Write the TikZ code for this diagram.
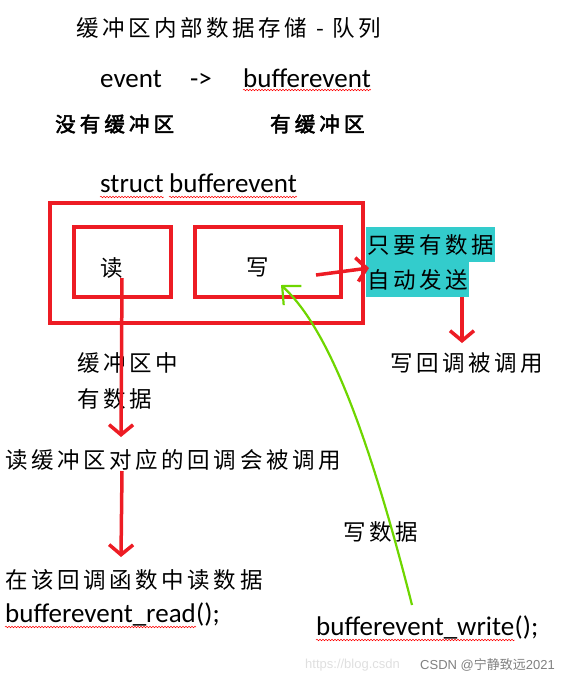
\documentclass[tikz,border=0pt]{standalone}
\usepackage{fontspec}
\setmainfont{Carlito}
\newfontfamily\cjk[LetterSpace=16]{Noto Sans CJK SC}
\newfontfamily\cjkbold[LetterSpace=20,FakeBold=2.5]{Noto Sans CJK SC}
\newfontfamily\wmfont{Liberation Sans}
\newfontfamily\wmcjk{Noto Sans CJK SC}
\usetikzlibrary{arrows.meta,decorations.pathmorphing}
\definecolor{myred}{RGB}{237,28,36}
\definecolor{mygreen}{RGB}{110,214,0}
\definecolor{mycyan}{RGB}{51,204,204}

\begin{document}
\begin{tikzpicture}
        [x=1pt, y=-1pt,
        txt/.style={inner sep=0pt, anchor=west},
        cn/.style={txt, font=\cjk\fontsize{22.5}{26}\selectfont},
        cnbold/.style={txt, font=\cjkbold\fontsize{20.5}{24}\selectfont},
        en/.style={inner sep=0pt, anchor=base west, font=\fontsize{27}{31}\selectfont},
        box/.style={draw=myred, line width=3.5pt, minimum height=70pt, inner sep=0pt},
        hilite/.style={fill=mycyan, inner xsep=1pt, inner ysep=0pt, minimum height=35pt, anchor=north west, font=\cjk\fontsize{22.5}{26}\selectfont},
        redarrow/.style={myred, line width=3.5pt, -{Straight Barb[length=10pt,width=24pt]}},
        greenarrow/.style={mygreen, line width=2.2pt, -{Straight Barb[length=14pt,width=26pt]}},
        squiggle/.style={red, line width=0.5pt, decorate, decoration={snake, amplitude=0.8pt, segment length=3pt}},
        wm/.style={txt, font=\wmfont\fontsize{13}{15}\selectfont}]

        \useasboundingbox (0,0) rectangle (584,681);

        % heading lines
        \node[cn] (title) at (76,28) {缓冲区内部数据存储 - 队列};
        \node[en] (ev) at (100,87) {event};
        \node[en] (to) at (190,87) {->};
        \node[en] (bev) at (243,87) {bufferevent};
        \node[cnbold] (nobuf) at (55,124) {没有缓冲区};
        \node[cnbold] (hasbuf) at (270,124) {有缓冲区};
        \node[en] (struct) at (100,192) {struct};
        \node[en] (sbev) at (169,192) {bufferevent};

        % the struct and its two buffers
        \node[box, minimum width=313pt, minimum height=120pt] (outer) at (206.5,263) {};
        \node[box, minimum width=97pt] (rbuf) at (122.5,262) {};
        \node[box, minimum width=146pt] (wbuf) at (268,262) {};
        \node[cn, anchor=center] (rd) at (112,268) {读};
        \node[cn, anchor=center] (wr) at (258,267) {写};

        % highlighted note
        \node[hilite] (send1) at (366,227) {只要有数据};
        \node[hilite] (send2) at (366,262) {自动发送};
        \node[cn] (wcb) at (390,363) {写回调被调用};

        % read side
        \node[cn] (hasdata1) at (77,363) {缓冲区中};
        \node[cn] (hasdata2) at (77,399) {有数据};
        \node[cn] (readcb) at (5,460) {读缓冲区对应的回调会被调用};
        \node[cn] (inread) at (5,580) {在该回调函数中读数据};
        \node[en] (rdfn) at (5,622) {bufferevent\_read};
        \node[en] (rdpar) at (rdfn.base east) {();};

        % write side
        \node[cn] (wdata) at (343,532) {写数据};
        \node[en] (wrfn) at (316,635) {bufferevent\_write};
        \node[en] (wrpar) at (wrfn.base east) {();};

        % watermark
        \node[wm, text=gray!25] (url) at (305,665) {https://blog.csdn};
        \node[wm, text=gray] (csdn) at (420,665) {CSDN @{\wmcjk 宁静致远}2021};

        % spell check marks
        \draw[squiggle] ([yshift=-3pt]bev.base west) -- ([yshift=-3pt]bev.base east);
        \draw[squiggle] ([yshift=-5pt]struct.base west) -- ([yshift=-5pt]struct.base east);
        \draw[squiggle] ([yshift=-5pt]sbev.base west) -- ([yshift=-5pt]sbev.base east);
        \draw[squiggle] ([yshift=-5pt]rdfn.base west) -- ([yshift=-5pt]rdfn.base east);
        \draw[squiggle] ([yshift=-5pt]wrfn.base west) -- ([yshift=-5pt]wrfn.base east);

        % red arrows
        \coordinate (wsrc) at (316,275);
        \coordinate (wtip) at (369,268);
        \coordinate (cbtip) at (462,343);
        \coordinate (rsrc) at (122,278);
        \coordinate (rtip) at (121,437);
        \coordinate (csrc) at (122,471);
        \coordinate (ctip) at (121,557);
        \draw[redarrow] (wsrc) -- (wtip);
        \draw[redarrow] (cbtip |- send2.south) -- (cbtip);
        \draw[redarrow] (rsrc) -- (rtip);
        \draw[redarrow] (csrc) -- (ctip);

        % green curve up to the write buffer
        \coordinate (gsrc) at (412,605);
        \coordinate (gtip) at (281,285);
        \draw[greenarrow] (gsrc) .. controls (370,440) and (330,330) .. (gtip);

    \end{tikzpicture}
\end{document}
